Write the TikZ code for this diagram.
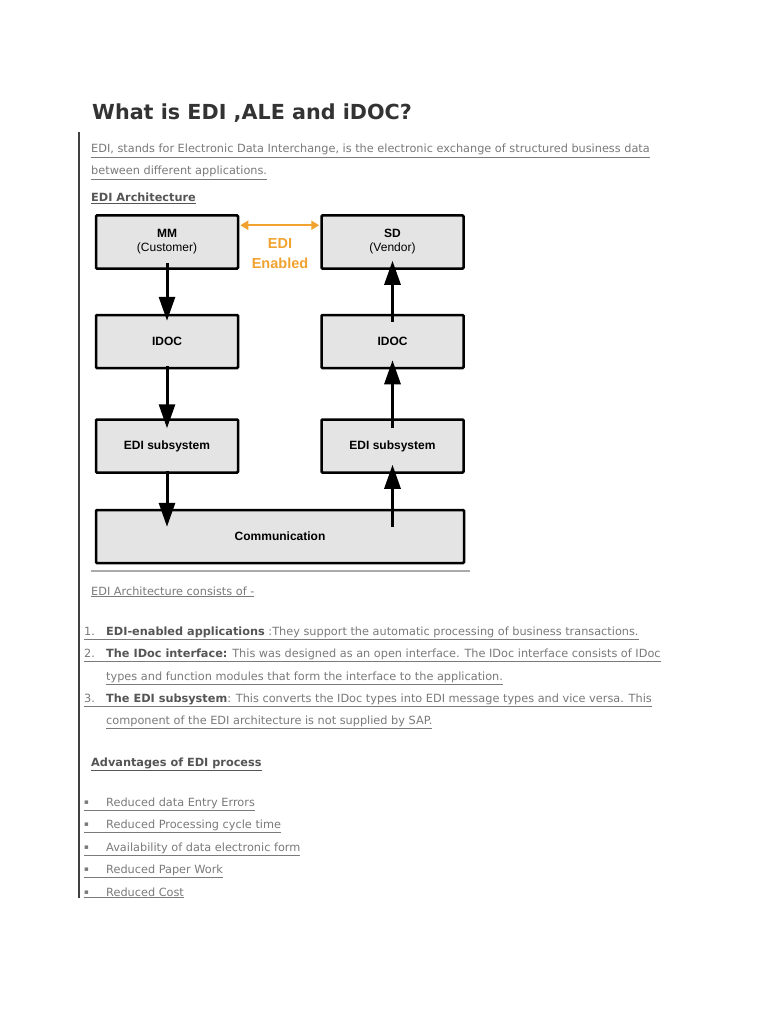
\documentclass[tikz,border=0pt]{standalone}
\usepackage{fontspec}
\setmainfont{DejaVu Sans}
\newfontfamily\arialf{Liberation Sans}
\usetikzlibrary{arrows.meta,calc}
\definecolor{titlec}{HTML}{333333}
\definecolor{txtc}{HTML}{7A7A7A}
\definecolor{boldc}{HTML}{555555}
\definecolor{boxfill}{HTML}{E4E4E4}
\definecolor{orangec}{HTML}{F2A22E}
\definecolor{rulec}{HTML}{AAAAAA}
\newcommand{\ulx}[1]{\underline{#1}}
\newcommand{\bul}{\makebox[22pt][l]{\raisebox{2pt}{\scriptsize▪}}}
\begin{document}
\begin{tikzpicture}[x=1pt,y=-1pt,
  txt/.style={anchor=base west,inner sep=0pt,text=txtc,font=\fontsize{11.3}{13}\selectfont},
  box/.style={draw=black,line width=2.5pt,fill=boxfill,rounded corners=1pt,minimum width=142pt,minimum height=53pt,inner sep=0pt,font=\arialf\fontsize{12}{14}\selectfont,align=center,text=black},
  bbox/.style={box,font=\arialf\bfseries\fontsize{12}{14}\selectfont},
  flow/.style={line width=3pt,-{Triangle[length=24pt,width=16pt]}},
  edi/.style={line width=2.5pt,orangec,{Triangle[length=8pt,width=9pt]}-{Triangle[length=8pt,width=9pt]}}
]
\useasboundingbox (0,0) rectangle (768,1024);
\fill[white] (0,0) rectangle (768,1024);

\node[anchor=base west,inner sep=0pt,text=titlec,font=\bfseries\fontsize{20.7}{24}\selectfont] (title) at (92,120) {What is EDI ,ALE and iDOC?};
\coordinate (vt) at (79,132);
\coordinate (vb) at (79,898);
\draw[line width=1.5pt,black!75] (vt) -- (vb);

\node[txt] (p1) at (91,153) {\ulx{EDI, stands for Electronic Data Interchange, is the electronic exchange of structured business data}};
\node[txt] (p2) at (91,175) {\ulx{between different applications.}};
\node[txt,text=boldc] (h1) at (91,202) {\ulx{\bfseries EDI Architecture}};

% diagram
\node[box] (mm) at (167,242) {\textbf{MM}\\(Customer)};
\node[box] (sd) at (392.5,242) {\textbf{SD}\\(Vendor)};
\node[bbox] (i1) at (167,341.5) {IDOC};
\node[bbox] (i2) at (392.5,341.5) {IDOC};
\node[bbox] (e1) at (167,446) {EDI subsystem};
\node[bbox] (e2) at (392.5,446) {EDI subsystem};
\node[bbox,minimum width=368pt] (cm) at (280,536.5) {Communication};

\draw[flow,shorten <=-7pt,shorten >=-7pt] (mm.south) -- (i1.north);
\draw[flow,shorten <=-3pt,shorten >=-10pt] (i1.south) -- (e1.north);
\draw[flow,shorten <=-3pt,shorten >=-18pt] (e1.south) -- ($(cm.north)+(-113,0)$);
\draw[flow,shorten <=-18pt,shorten >=-9pt] ($(cm.north)+(112.5,0)$) -- (e2.south);
\draw[flow,shorten <=-10pt,shorten >=-9pt] (e2.north) -- (i2.south);
\draw[flow,shorten <=-8pt,shorten >=-9pt] (i2.north) -- (sd.south);

\draw[edi] ($(mm.north east)+(1,11)$) -- ($(sd.north west)+(-1,11)$);
\node[text=orangec,font=\arialf\bfseries\fontsize{14.5}{20}\selectfont,align=center,inner sep=0pt] (lab) at (280,254) {EDI\\Enabled};

\coordinate (ra) at (91,571);
\coordinate (rb) at (470,571);
\draw[line width=1.5pt,rulec] (ra) -- (rb);

\node[txt] (c0) at (91,595) {\ulx{EDI Architecture consists of -}};

\node[txt] (l1) at (84,635) {\ulx{\makebox[22pt][l]{1.}{\color{boldc}\bfseries EDI-enabled applications} :They support the automatic processing of business transactions.}};
\node[txt] (l2) at (84,657) {\ulx{\makebox[22pt][l]{2.}{\color{boldc}\bfseries The IDoc interface:} This was designed as an open interface. The IDoc interface consists of IDoc}};
\node[txt] (l2b) at (106,680) {\ulx{types and function modules that form the interface to the application.}};
\node[txt] (l3) at (84,702) {\ulx{\makebox[22pt][l]{3.}{\color{boldc}\bfseries The EDI subsystem}: This converts the IDoc types into EDI message types and vice versa. This}};
\node[txt] (l3b) at (106,724) {\ulx{component of the EDI architecture is not supplied by SAP.}};

\node[txt,text=boldc] (h2) at (91,766) {\ulx{\bfseries Advantages of EDI process}};

\node[txt] (b1) at (84,806) {\ulx{\bul Reduced data Entry Errors}};
\node[txt] (b2) at (84,828) {\ulx{\bul Reduced Processing cycle time}};
\node[txt] (b3) at (84,851) {\ulx{\bul Availability of data electronic form}};
\node[txt] (b4) at (84,873) {\ulx{\bul Reduced Paper Work}};
\node[txt] (b5) at (84,896) {\ulx{\bul Reduced Cost}};
\end{tikzpicture}
\end{document}
